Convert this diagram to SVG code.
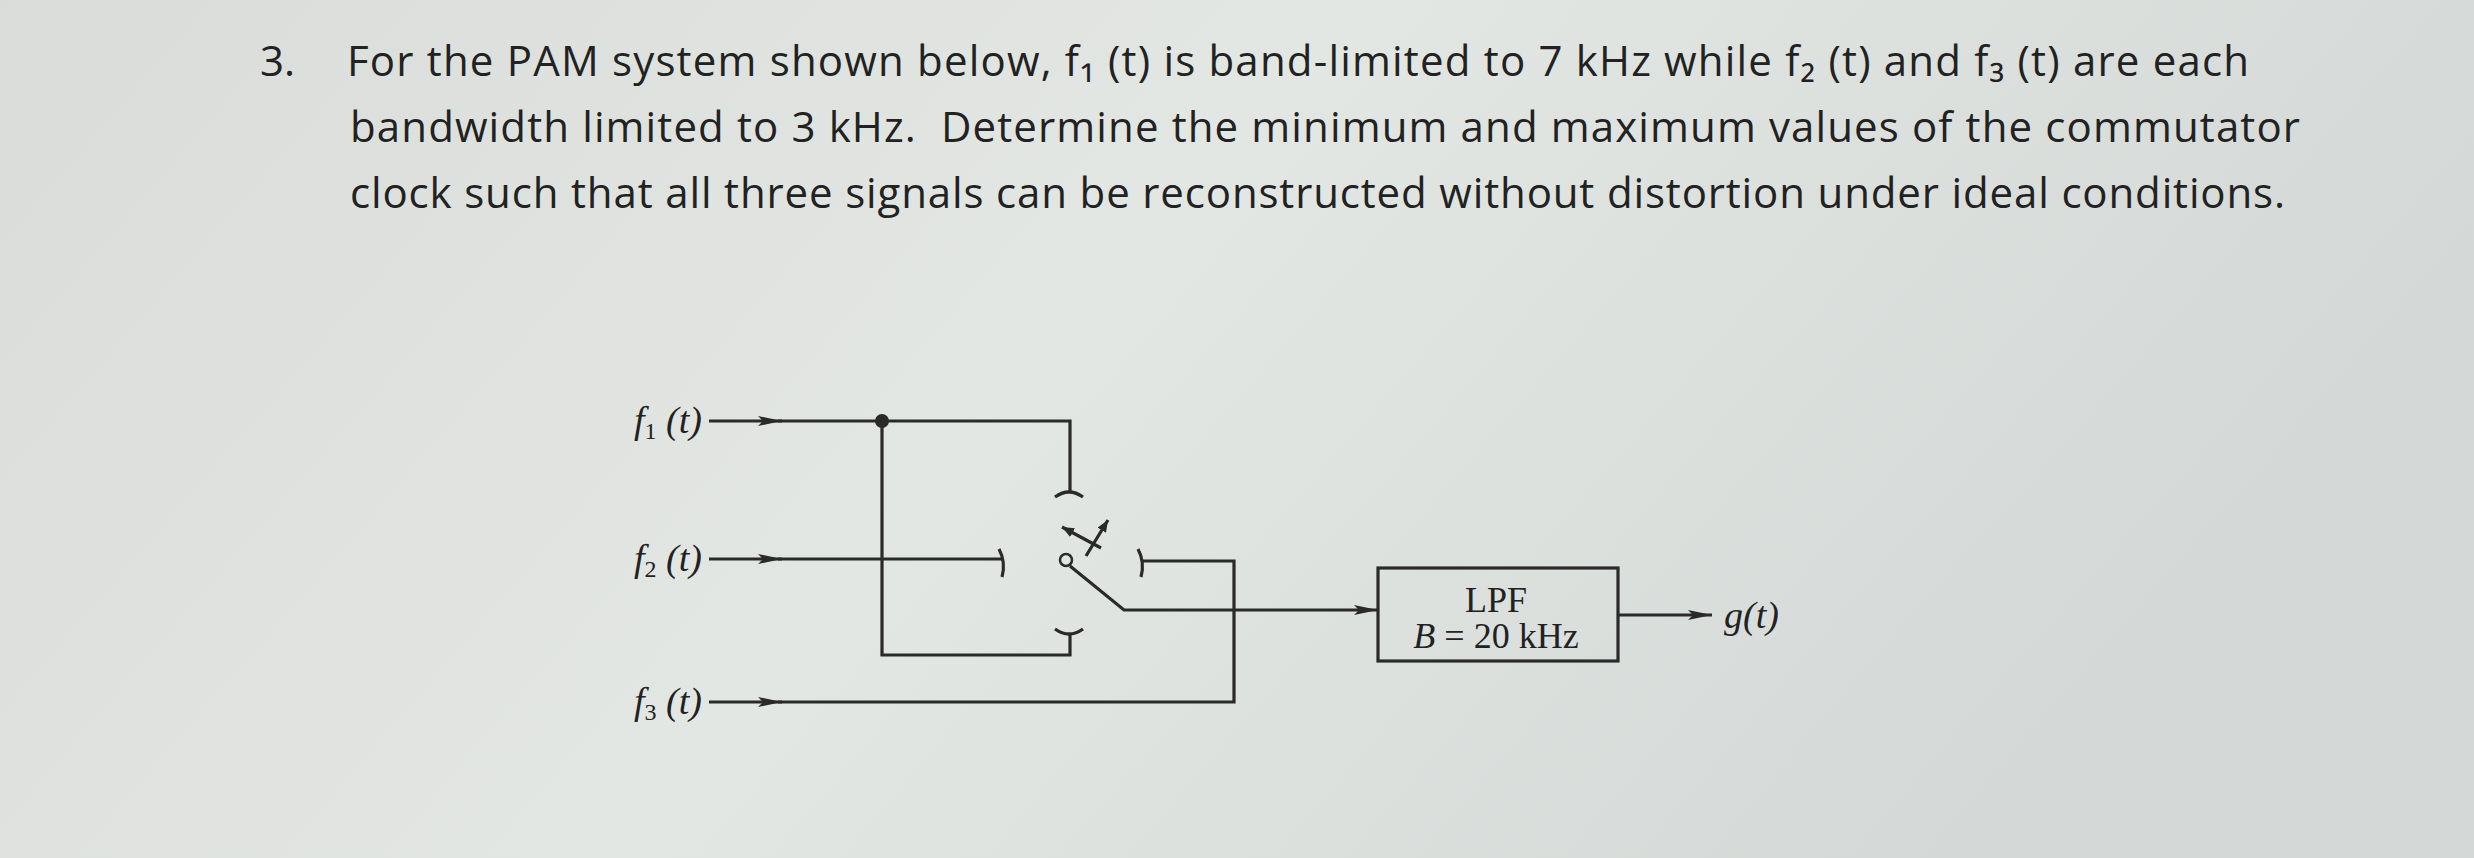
<svg xmlns="http://www.w3.org/2000/svg" width="2474" height="858" viewBox="0 0 2474 858">
<defs>
<linearGradient id="bg" x1="0" y1="0" x2="1" y2="0.3">
<stop offset="0" stop-color="#d9dcd9"/><stop offset="0.5" stop-color="#e3e7e4"/><stop offset="1" stop-color="#d4d8d6"/>
</linearGradient>
<marker id="ah" viewBox="0 0 24 12" refX="24" refY="6" markerWidth="24" markerHeight="12" markerUnits="userSpaceOnUse" orient="auto"><path d="M0,1 L24,6 L0,11 L5,6 z" fill="#2a2a2a"/></marker>
<marker id="ahs" viewBox="0 0 12 10" refX="12" refY="5" markerWidth="12" markerHeight="10" markerUnits="userSpaceOnUse" orient="auto"><path d="M0,0 L12,5 L0,10 z" fill="#2a2a2a"/></marker>
</defs>
<style>
.q{font-family:"Open Sans","Liberation Sans",sans-serif;font-size:42px;fill:#222}
.w{fill:none;stroke:#2a2a2a;stroke-width:3.2}
.lbl{font-family:"Liberation Serif",serif;font-size:38px;fill:#222;font-style:italic}
.box{font-family:"Liberation Serif",serif;font-size:36px;fill:#222}
</style>
<rect width="2474" height="858" fill="url(#bg)"/>
<g id="question">
<text class="q" x="260" y="76">3.</text>
<text class="q" x="347" y="76" textLength="1902">For the PAM system shown below, f₁ (t) is band-limited to 7 kHz while f₂ (t) and f₃ (t) are each</text>
<text class="q" x="350" y="142" textLength="1950">bandwidth limited to 3 kHz.&#160; Determine the minimum and maximum values of the commutator</text>
<text class="q" x="350" y="208" textLength="1935">clock such that all three signals can be reconstructed without distortion under ideal conditions.</text>
</g>
<g id="connectors">
<line class="w" x1="709" y1="421" x2="782" y2="421" marker-end="url(#ah)"/>
<polyline class="w" points="778,421 1070,421 1070,493"/>
<path class="w" d="M1055,497 Q1069,487 1083,497"/>
<polyline class="w" points="882,421 882,655 1070,655 1070,633"/>
<path class="w" d="M1055,629 Q1069,639 1083,629"/>
<circle cx="882" cy="421" r="7" fill="#2a2a2a"/>
<line class="w" x1="709" y1="559" x2="782" y2="559" marker-end="url(#ah)"/>
<line class="w" x1="778" y1="559" x2="1002" y2="559"/>
<path class="w" d="M999,549 Q1006,562 1002,577"/>
<path class="w" d="M1138,549 Q1145,562 1141,577"/>
<polyline class="w" points="1141,561 1234,561 1234,702 778,702"/>
<line class="w" x1="709" y1="702" x2="782" y2="702" marker-end="url(#ah)"/>
<circle cx="1066" cy="560" r="6" fill="none" stroke="#2a2a2a" stroke-width="2.5"/>
<polyline class="w" points="1070,566 1124,610 1378,610" marker-end="url(#ah)"/>
<line class="w" x1="1086" y1="556" x2="1108" y2="520" stroke-width="2.5" marker-end="url(#ahs)"/>
<line class="w" x1="1101" y1="548" x2="1062" y2="527" stroke-width="2.5" marker-end="url(#ahs)"/>
<line class="w" x1="1618" y1="615" x2="1712" y2="615" marker-end="url(#ah)"/>
</g>
<g id="f1"><text class="lbl" x="634" y="433">f<tspan font-size="24" font-style="normal" dy="6">1</tspan><tspan dy="-6"> (t)</tspan></text></g>
<g id="f2"><text class="lbl" x="634" y="571">f<tspan font-size="24" font-style="normal" dy="6">2</tspan><tspan dy="-6"> (t)</tspan></text></g>
<g id="f3"><text class="lbl" x="634" y="714">f<tspan font-size="24" font-style="normal" dy="6">3</tspan><tspan dy="-6"> (t)</tspan></text></g>
<g id="lpf">
<rect x="1378" y="568" width="240" height="93" fill="none" stroke="#2a2a2a" stroke-width="3.2"/>
<text class="box" x="1496" y="612" text-anchor="middle">LPF</text>
<text class="box" x="1496" y="648" text-anchor="middle"><tspan font-style="italic">B</tspan> = 20 kHz</text>
</g>
<g id="g"><text class="lbl" x="1724" y="628" font-size="36">g(t)</text></g>
</svg>
